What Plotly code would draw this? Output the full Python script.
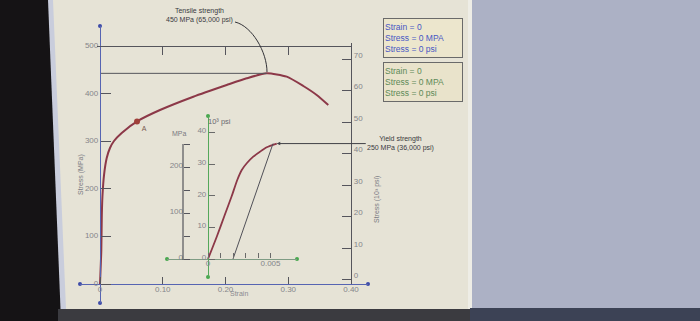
import plotly.graph_objects as go

W, H = 700, 321

# ---------------- data ----------------
strain = [0, 0.0021, 0.0029, 0.0040, 0.0064, 0.0107, 0.0159, 0.0223, 0.0346, 0.0610,
          0.0956, 0.1487, 0.2019, 0.2338, 0.2657, 0.2975, 0.3240, 0.3453, 0.3638]
stress_mpa = [0, 71.5, 145.1, 187.2, 229.2, 265.0, 286.0, 300.7, 317.6, 343.4,
              365.9, 393.9, 418.5, 432.6, 443.0, 436.0, 416.4, 397.5, 376.4]

point_a_strain = [0.059]
point_a_mpa = [342.0]
point_a_label = ["A"]

inset_strain = [0, 0.0007, 0.00136, 0.0019, 0.00234, 0.0027, 0.0031, 0.00362, 0.00416, 0.0047, 0.0055]
inset_mpa = [0, 48.7, 97.6, 137.6, 172.5, 194.3, 209.0, 223.4, 234.3, 243.9, 252.0]

offset_strain = [0.002, 0.0052]
offset_mpa = [0, 252]

main_strain_ticks = [0, 0.1, 0.2, 0.3, 0.4]
main_strain_labels = ["0", "0.10", "0.20", "0.30", "0.40"]
top_strain_ticks = [0.1, 0.2, 0.3]
main_mpa_ticks = [0, 100, 200, 300, 400, 500]
main_mpa_labels = ["0", "100", "200", "300", "400", "500"]
psi_ticks = [0, 10, 20, 30, 40, 50, 60, 70]
psi_labels = ["0", "10", "20", "30", "40", "50", "60", "70"]
inset_strain_ticks = [0, 0.001, 0.002, 0.003, 0.004, 0.005]
inset_strain_labels = ["0", "", "", "", "", "0.005"]
inset_mpa_ticks = [0, 50, 100, 150, 200, 250]
inset_mpa_labels = ["0", "", "100", "", "200", ""]
inset_ksi_ticks = [0, 10, 20, 30, 40]
inset_ksi_labels = ["0", "10", "20", "30", "40"]

box_lines = ["Strain = 0", "Stress = 0 MPA", "Stress = 0 psi"]

MPA_PER_KSI = 6.895

# ---------------- pixel helpers / calibration ----------------
def fx(p):
    return p / W


def fy(p):
    return (H - p) / H


MX0, MXK = 100.0, 627.5     # main: strain 0 at px 100
MY0, MYK = 284.0, 0.4755    # main: 0 MPa at px 284
IX0, IXK = 208.0, 12500.0   # inset strain
IY0, IYK = 259.0, 0.458     # inset MPa
PS0, PSK = 279.5, 3.15      # right psi axis


def m_strain(p):
    return (p - MX0) / MXK


def m_mpa(p):
    return (MY0 - p) / MYK


BLUE = "#5664b2"
DARK = "#55555c"
RED = "#8c3848"
GREEN = "#55a85a"
TICK = "#85858a"
FONT = "Liberation Sans, Arial, sans-serif"

fig = go.Figure()

# main curve
fig.add_trace(go.Scatter(x=strain, y=stress_mpa, mode="lines",
                         line=dict(color=RED, width=2, shape="spline", smoothing=0.6),
                         xaxis="x", yaxis="y", hoverinfo="skip", showlegend=False))
# tensile strength horizontal
i_max = stress_mpa.index(max(stress_mpa))
fig.add_trace(go.Scatter(x=[0, strain[i_max]], y=[stress_mpa[i_max]] * 2, mode="lines",
                         line=dict(color=DARK, width=1), xaxis="x", yaxis="y",
                         hoverinfo="skip", showlegend=False))
# point A
fig.add_trace(go.Scatter(x=point_a_strain, y=point_a_mpa, mode="markers+text",
                         text=point_a_label, textposition="bottom right",
                         textfont=dict(size=7, color="#7a5a50", family=FONT),
                         marker=dict(color="#a0403a", size=6), xaxis="x", yaxis="y",
                         hoverinfo="skip", showlegend=False))

xr_main = [m_strain(80), m_strain(368)]
yr_main = [m_mpa(303), m_mpa(26)]
fig.add_trace(go.Scatter(x=[xr_main[0], xr_main[1], 0, 0], y=[0, 0, yr_main[0], yr_main[1]],
                         mode="markers", marker=dict(color="#3e4ca8", size=4),
                         cliponaxis=False, xaxis="x", yaxis="y",
                         hoverinfo="skip", showlegend=False))

# inset
fig.add_trace(go.Scatter(x=inset_strain, y=inset_mpa, mode="lines",
                         line=dict(color=RED, width=1.8, shape="spline", smoothing=0.6),
                         xaxis="x2", yaxis="y3", hoverinfo="skip", showlegend=False))
fig.add_trace(go.Scatter(x=offset_strain, y=offset_mpa, mode="lines",
                         line=dict(color="#505058", width=1),
                         xaxis="x2", yaxis="y3", hoverinfo="skip", showlegend=False))

xr_in = [(167 - IX0) / IXK, (297 - IX0) / IXK]
yr_in = [(IY0 - 277) / IYK, (IY0 - 116) / IYK]
fig.add_trace(go.Scatter(x=[xr_in[0], xr_in[1], 0, 0], y=[0, 0, yr_in[0], yr_in[1]],
                         mode="markers", marker=dict(color="#48a84e", size=4),
                         cliponaxis=False, xaxis="x2", yaxis="y3",
                         hoverinfo="skip", showlegend=False))

# carriers for decorative axes
for xa, ya in [("x3", "y"), ("x", "y2"), ("x2", "y4")]:
    fig.add_trace(go.Scatter(x=[None], y=[None], mode="lines", xaxis=xa, yaxis=ya,
                             hoverinfo="skip", showlegend=False))

tf = dict(size=8, color=TICK, family=FONT)
common = dict(showgrid=False, zeroline=False, fixedrange=True, automargin=False)

layout = dict(
    width=W, height=H, autosize=False, showlegend=False,
    margin=dict(l=0, r=0, t=0, b=0, pad=0, autoexpand=False),
    paper_bgcolor="#e6e3d6", plot_bgcolor="rgba(0,0,0,0)",
    font=dict(family=FONT),
    xaxis=dict(domain=[fx(80), fx(368)], range=xr_main, anchor="free", position=fy(MY0),
               showline=True, linecolor=BLUE, linewidth=1.3, ticks="inside", ticklen=7,
               tickcolor=DARK, tickvals=main_strain_ticks, ticktext=main_strain_labels,
               tickfont=tf, ticklabelstandoff=-3, **common),
    yaxis=dict(domain=[fy(303), fy(26)], range=yr_main, anchor="free", position=fx(MX0),
               showline=True, linecolor=BLUE, linewidth=1.3, ticks="inside", ticklen=10,
               tickcolor=DARK, tickvals=main_mpa_ticks, ticktext=main_mpa_labels,
               tickfont=tf, ticklabelshift=-1, **common),
    xaxis3=dict(domain=[fx(97), fx(351)], range=[m_strain(97), m_strain(351)], anchor="free",
                position=fy(MY0 - 500 * MYK), side="top", showline=True, linecolor=DARK,
                linewidth=1.2, ticks="inside", ticklen=8, tickcolor=DARK,
                tickvals=top_strain_ticks, showticklabels=False, **common),
    yaxis2=dict(domain=[fy(MY0), fy(43)], range=[(PS0 - MY0) / PSK, (PS0 - 43) / PSK],
                anchor="free", position=fx(351), side="right", showline=True,
                linecolor=DARK, linewidth=1.2, ticks="inside", ticklen=9, tickcolor=DARK,
                tickvals=psi_ticks, ticktext=psi_labels, tickfont=tf,
                ticklabelshift=-4, **common),
    xaxis2=dict(domain=[fx(167), fx(297)], range=xr_in, anchor="free", position=fy(258.5),
                showline=True, linecolor="#7f9c84", linewidth=1.2, ticks="inside", ticklen=5,
                tickcolor="#6a6a6a", tickvals=inset_strain_ticks, ticktext=inset_strain_labels,
                tickfont=tf, ticklabelstandoff=-3, **common),
    yaxis3=dict(domain=[fy(277), fy(116)], range=yr_in, anchor="free", position=fx(183),
                showline=False, ticks="inside", ticklen=6, tickcolor=DARK,
                tickvals=inset_mpa_ticks, ticktext=inset_mpa_labels, tickfont=tf,
                ticklabelshift=-2, **common),
    yaxis4=dict(overlaying="y3", anchor="free", position=fx(208),
                range=[v / MPA_PER_KSI for v in yr_in], showline=True, linecolor=GREEN,
                linewidth=1.2, ticks="inside", ticklen=6, tickcolor="#6a6a6a",
                tickvals=inset_ksi_ticks, ticktext=inset_ksi_labels, tickfont=tf,
                ticklabelshift=-2, **common),
)
fig.update_layout(**layout)

# ---------------- background (photo of a screen) ----------------
def ppath(points):
    s = "M " + " L ".join(f"{fx(a):.5f},{fy(b):.5f}" for a, b in points) + " Z"
    return s


shapes = [
    dict(type="rect", xref="paper", yref="paper", x0=fx(470), x1=1, y0=fy(309), y1=1,
         fillcolor="#acb1c5", line=dict(width=0), layer="below"),
    dict(type="rect", xref="paper", yref="paper", x0=fx(468), x1=fx(472), y0=fy(309), y1=1,
         fillcolor="#eeede6", line=dict(width=0), layer="below"),
    dict(type="path", xref="paper", yref="paper",
         path=ppath([(0, 0), (53, 0), (66, 309), (0, 309)]),
         fillcolor="#c9cddc", line=dict(width=0), layer="below"),
    dict(type="path", xref="paper", yref="paper",
         path=ppath([(0, 0), (48, 0), (61, 321), (0, 321)]),
         fillcolor="#151315", line=dict(width=0), layer="below"),
    dict(type="rect", xref="paper", yref="paper", x0=fx(58), x1=fx(470), y0=0, y1=fy(309),
         fillcolor="#3b3b40", line=dict(width=0), layer="below"),
    dict(type="rect", xref="paper", yref="paper", x0=fx(470), x1=1, y0=0, y1=fy(308),
         fillcolor="#3c4255", line=dict(width=0), layer="below"),
    # inset MPa axis line
    dict(type="line", xref="paper", yref="y3", x0=fx(183), x1=fx(183), y0=-2,
         y1=inset_mpa_ticks[-1] + 1, line=dict(color=DARK, width=1.2)),
    # tensile strength leader (curved)
    dict(type="path", xref="paper", yref="paper",
         path=(f"M {fx(235):.5f},{fy(22):.5f} C {fx(252):.5f},{fy(26):.5f} "
               f"{fx(267):.5f},{fy(52):.5f} {fx(267):.5f},{fy(72):.5f}"),
         line=dict(color="#333338", width=1)),
]
fig.update_layout(shapes=shapes)

small = dict(size=7, color="#3a3a40", family=FONT)
box_font = dict(size=8.5, family=FONT)
annotations = [
    dict(xref="paper", yref="paper", x=fx(199), y=fy(15), text="Tensile strength<br>450 MPa (65,000 psi)",
         showarrow=False, xanchor="center", yanchor="middle", font=small),
    dict(xref="x2", yref="y3", x=inset_strain[-1], y=inset_mpa[-1], ax=124, ay=0,
         text="Yield strength<br>250 MPa (36,000 psi)", showarrow=True, arrowhead=2,
         arrowsize=0.7, arrowwidth=1, arrowcolor="#404046", font=small),
    dict(xref="paper", yref="paper", x=fx(383), y=fy(18), xanchor="left", yanchor="top",
         text="<br>".join(box_lines), showarrow=False, align="left", width=76, height=36,
         bgcolor="#ece6cd", bordercolor="#6a6a6a", borderwidth=1, borderpad=1,
         font=dict(color="#4757c4", **box_font)),
    dict(xref="paper", yref="paper", x=fx(383), y=fy(62), xanchor="left", yanchor="top",
         text="<br>".join(box_lines), showarrow=False, align="left", width=76, height=36,
         bgcolor="#e9e3cb", bordercolor="#6a6a6a", borderwidth=1, borderpad=1,
         font=dict(color="#5d8a58", **box_font)),
    dict(xref="paper", yref="paper", x=fx(75), y=fy(175), text="Stress (MPa)", textangle=-90,
         showarrow=False, font=dict(size=7, color="#7a7a82", family=FONT)),
    dict(xref="paper", yref="paper", x=fx(228), y=fy(299), text="Strain",
         showarrow=False, font=dict(size=7, color="#8a8a90", family=FONT)),
    dict(xref="paper", yref="paper", x=fx(377), y=fy(200), text="Stress (10³ psi)", textangle=-90,
         showarrow=False, font=dict(size=7, color="#7a7a82", family=FONT)),
    dict(xref="paper", yref="paper", x=fx(170), y=fy(133), text="MPa",
         showarrow=False, font=dict(size=7, color="#7a7a82", family=FONT)),
    dict(xref="paper", yref="paper", x=fx(206), y=fy(121), text="10³ psi",
         showarrow=False, font=dict(size=7.5, color="#6a6a70", family=FONT)),
]
fig.update_layout(annotations=annotations)

fig.write_html("out.html", config={"displayModeBar": False})
